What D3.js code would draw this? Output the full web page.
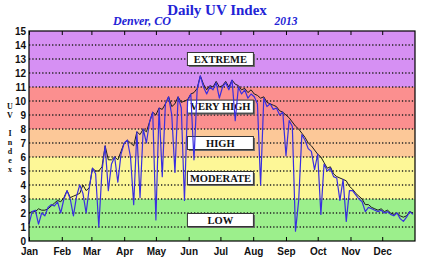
<!DOCTYPE html>
<html>
<head>
<meta charset="utf-8">
<script src="https://cdn.jsdelivr.net/npm/d3@7"></script>
<style>
  body { margin: 0; background: #fff; }
  svg { display: block; font-family: "Liberation Serif", "Times New Roman", serif; }
  .tick text { font-weight: bold; font-size: 10px; fill: #111; }
  .band-label { font-weight: bold; font-size: 10.5px; fill: #111; }
</style>
</head>
<body>
<svg id="chart" width="432" height="257"></svg>
<script>
// UV categories (lower bound, upper bound, label, label centre)
const bandNames = ['LOW', 'MODERATE', 'HIGH', 'VERY HIGH', 'EXTREME'];
const bandLow   = [0, 3, 6, 8, 11];
const bandHigh  = [3, 6, 8, 11, 15];
const bandLabelAt = [1.5, 4.5, 7.0, 9.6, 13.0];
const bandColors = ['#9cef8c', '#fdf797', '#fcc898', '#fb8f8f', '#d690f3'];

const monthLabels = ['Jan', 'Feb', 'Mar', 'Apr', 'May', 'Jun', 'Jul', 'Aug', 'Sep', 'Oct', 'Nov', 'Dec'];
const yTicks = d3.range(0, 16);

// one value every 3 days, starting Jan 1 2013
const dayStep = 3;
const uvMeasured = [
  1.2, 2.1, 2.2, 1.2, 2.0, 1.8, 2.4, 2.6, 2.5, 2.8, 2.0,          // Jan
  3.0, 3.6, 3.0, 1.8, 3.2, 4.0, 3.4, 2.0, 3.8,                    // Feb
  5.2, 4.8, 1.0, 5.0, 6.8, 3.6, 5.5, 6.0, 4.2, 6.2,               // Mar
  7.0, 7.2, 6.0, 2.6, 7.8, 3.1, 8.0, 7.0, 8.5, 9.2,               // Apr
  1.5, 9.5, 4.6, 9.8, 10.3, 9.0, 4.9, 10.3, 9.5, 2.9, 10.0,       // May
  10.5, 5.8, 10.8, 11.8, 11.0, 10.5, 11.0, 10.8, 11.3, 10.2,      // Jun
  11.0, 11.3, 10.8, 11.5, 8.6, 11.0, 10.5, 10.8, 10.2, 10.5,      // Jul
  10.3, 9.8, 4.0, 10.2, 9.6, 9.8, 9.4, 9.5, 9.0, 9.2,             // Aug
  6.1, 8.6, 8.2, 0.7, 2.9, 7.6, 7.2, 6.6, 6.4, 5.1,               // Sep
  6.2, 1.9, 5.5, 5.0, 5.2, 4.6, 4.5, 2.9, 4.4, 1.4, 3.6,          // Oct
  3.6, 3.3, 3.0, 2.8, 2.1, 2.4, 2.3, 2.2, 2.1, 2.2,               // Nov
  2.0, 2.1, 1.9, 1.8, 2.0, 1.6, 1.4, 1.7, 2.1, 1.9                // Dec
];
const uvClearSky = [
  2.0, 2.1, 2.1, 2.3, 2.2, 2.2, 2.3, 2.5, 2.7, 2.9, 2.8,
  3.1, 3.6, 3.1, 3.2, 3.3, 3.4, 4.0, 3.6, 3.8,
  5.2, 5.0, 5.0, 5.3, 6.8, 5.8, 5.8, 6.0, 5.8, 6.4,
  7.0, 7.2, 7.0, 6.8, 7.8, 7.6, 8.0, 7.8, 8.5, 9.2,
  9.0, 9.5, 9.4, 9.8, 10.3, 9.6, 9.8, 10.3, 9.9, 10.0, 10.1,
  10.5, 10.6, 10.9, 11.8, 11.2, 10.8, 11.1, 11.0, 11.4, 11.0,
  11.1, 11.4, 11.0, 11.5, 11.2, 11.1, 10.8, 10.9, 10.6, 10.8,
  10.5, 10.4, 10.2, 10.3, 9.9, 9.8, 9.7, 9.6, 9.3, 9.2,
  9.0, 8.8, 8.5, 8.2, 8.0, 7.7, 7.4, 7.0, 6.8, 6.5,
  6.2, 6.0, 5.6, 5.2, 5.3, 4.8, 4.6, 4.5, 4.4, 4.3, 3.9,
  3.7, 3.4, 3.2, 3.0, 2.6, 2.6, 2.4, 2.3, 2.2, 2.3,
  2.1, 2.2, 2.0, 1.9, 2.0, 1.8, 1.7, 1.8, 2.1, 2.0
];

const dim = {top: 31, right: 17, bottom: 16, left: 29};
const svg = d3.select('#chart');
const width = 432 - dim.left - dim.right;
const height = 257 - dim.top - dim.bottom;

const start = new Date(Date.UTC(2013, 0, 1));
const end = new Date(Date.UTC(2014, 0, 1));
const dayToDate = d => d3.utcDay.offset(start, d);

const x = d3.scaleUtc().domain([start, end]).range([0, width]);
const y = d3.scaleLinear().domain([0, 15]).range([height, 0]);

const g = svg.append('g')
  .attr('transform', `translate(${dim.left}, ${dim.top})`);

// coloured UV bands
g.selectAll('rect.band')
  .data(bandNames)
  .enter().append('rect')
    .attr('class', 'band')
    .attr('x', 0)
    .attr('width', width)
    .attr('y', (d, i) => y(bandHigh[i]))
    .attr('height', (d, i) => y(bandLow[i]) - y(bandHigh[i]))
    .attr('fill', (d, i) => bandColors[i]);

// dotted grid
g.selectAll('line.grid')
  .data(yTicks.slice(1, -1))
  .enter().append('line')
    .attr('class', 'grid')
    .attr('x1', 0)
    .attr('x2', width)
    .attr('y1', d => y(d))
    .attr('y2', d => y(d))
    .attr('stroke', '#222')
    .attr('stroke-width', 1.3)
    .attr('stroke-dasharray', '1.3,2');

// category boxes
const boxW = 66, boxH = 13;
const boxX = x(dayToDate(181)) - boxW / 2;
const boxes = g.selectAll('g.band-box')
  .data(bandNames)
  .enter().append('g')
    .attr('class', 'band-box')
    .attr('transform', (d, i) => `translate(${boxX}, ${y(bandLabelAt[i]) - boxH / 2})`);

boxes.append('rect')
  .attr('x', 1.5).attr('y', 1.5)
  .attr('width', boxW).attr('height', boxH)
  .attr('fill', '#666');

boxes.append('rect')
  .attr('width', boxW).attr('height', boxH)
  .attr('fill', '#fff')
  .attr('stroke', '#333')
  .attr('stroke-width', 1);

boxes.append('text')
  .attr('class', 'band-label')
  .attr('x', boxW / 2)
  .attr('y', boxH / 2 + 3.7)
  .attr('text-anchor', 'middle')
  .text(d => d);

// data lines
const lineFor = d3.line()
  .x((d, i) => x(dayToDate(i * dayStep)))
  .y(d => y(d));

g.append('path')
  .datum(uvClearSky)
  .attr('fill', 'none')
  .attr('stroke', '#1a1a1a')
  .attr('stroke-width', 1)
  .attr('d', lineFor);

g.append('path')
  .datum(uvMeasured)
  .attr('fill', 'none')
  .attr('stroke', '#3a2ee0')
  .attr('stroke-width', 1.2)
  .attr('stroke-linejoin', 'round')
  .attr('d', lineFor);

// frame
g.append('rect')
  .attr('width', width)
  .attr('height', height)
  .attr('fill', 'none')
  .attr('stroke', '#000')
  .attr('stroke-width', 1.2);

// axes
const months = d3.utcMonths(start, end);

g.append('g')
  .attr('transform', `translate(0, ${height})`)
  .call(d3.axisBottom(x).tickValues(months).tickSize(-4).tickPadding(7)
    .tickFormat((d, i) => monthLabels[i]))
  .call(a => a.select('.domain').remove())
  .call(a => a.selectAll('.tick line').attr('stroke', '#000'));

g.append('g')
  .call(d3.axisTop(x).tickValues(months).tickSize(-4).tickFormat(''))
  .call(a => a.select('.domain').remove())
  .call(a => a.selectAll('.tick line').attr('stroke', '#000'));

g.append('g')
  .call(d3.axisLeft(y).tickValues(yTicks).tickSize(0).tickPadding(3))
  .call(a => a.select('.domain').remove());

// vertical stacked axis label
const yTitle = ['U', 'V', '', 'I', 'n', 'd', 'e', 'x'];
svg.append('g')
  .attr('font-weight', 'bold')
  .attr('font-size', 8)
  .attr('fill', '#111')
  .attr('text-anchor', 'middle')
  .selectAll('text')
  .data(yTitle)
  .enter().append('text')
    .attr('x', 10)
    .attr('y', (d, i) => 109 + i * 9)
    .text(d => d);

// titles
svg.append('text')
  .attr('x', 217).attr('y', 15)
  .attr('text-anchor', 'middle')
  .attr('font-weight', 'bold')
  .attr('font-size', 15)
  .attr('fill', '#2323d6')
  .text('Daily UV Index');

svg.append('text')
  .attr('x', 142).attr('y', 25)
  .attr('text-anchor', 'middle')
  .attr('font-weight', 'bold')
  .attr('font-style', 'italic')
  .attr('font-size', 12)
  .attr('fill', '#2323d6')
  .text('Denver, CO');

svg.append('text')
  .attr('x', 286).attr('y', 25)
  .attr('text-anchor', 'middle')
  .attr('font-weight', 'bold')
  .attr('font-style', 'italic')
  .attr('font-size', 11.5)
  .attr('fill', '#2323d6')
  .text('2013');
</script>
</body>
</html>
